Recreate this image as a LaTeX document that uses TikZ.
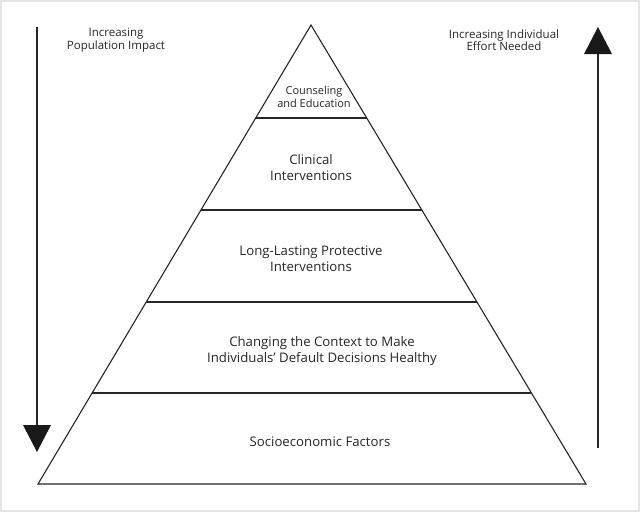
\documentclass[tikz,border=0pt]{standalone}
\usepackage{fontspec}
\setmainfont{Open Sans}
\usetikzlibrary{calc}
\begin{document}
\begin{tikzpicture}[x=1pt,y=-1pt,
  lbl/.style={font=\fontsize{13.2}{16}\selectfont,align=center,text=black!85},
  side/.style={font=\fontsize{11.5}{12.5}\selectfont,align=center,text=black!85},
  ln/.style={line width=1.1pt,black!85}]
\fill[white] (0,0) rectangle (640,512);
\draw[black!10,line width=2pt] (1,1) rectangle (639,511);
\coordinate (A) at (311,25);
\coordinate (L) at (38,484);
\coordinate (R) at (586,484);
\draw[ln] (A) -- (L) -- (R) -- cycle;
\foreach \y/\n in {118/a,210/b,302/c,393/d}{
  \pgfmathsetmacro\t{(\y-25)/459}
  \draw[ln] ($(A)!\t!(L)$) -- ($(A)!\t!(R)$);
}
\node[lbl,font=\fontsize{11}{12.5}\selectfont] (n1) at (314,97) {Counseling\\and Education};
\node[lbl] (n2) at (311,168) {Clinical\\Interventions};
\node[lbl] (n3) at (311,259) {Long-Lasting Protective\\Interventions};
\node[lbl] (n4) at (322,351) {Changing the Context to Make\\Individuals' Default Decisions Healthy};
\node[lbl] (n5) at (320,442) {Socioeconomic Factors};
\node[side] (t1) at (116,40) {Increasing\\Population Impact};
\node[side] (t2) at (504,40) {Increasing Individual\\Effort Needed};
\coordinate (l1) at (37,27); \coordinate (l2) at (37,425);
\draw[ln] (l1) -- (l2);
\fill[black!90] (23,425) -- (51,425) -- (37,452) -- cycle;
\coordinate (r1) at (598,448); \coordinate (r2) at (598,54);
\draw[ln] (r1) -- (r2);
\fill[black!90] (584,54) -- (612,54) -- (598,27) -- cycle;
\end{tikzpicture}
\end{document}
